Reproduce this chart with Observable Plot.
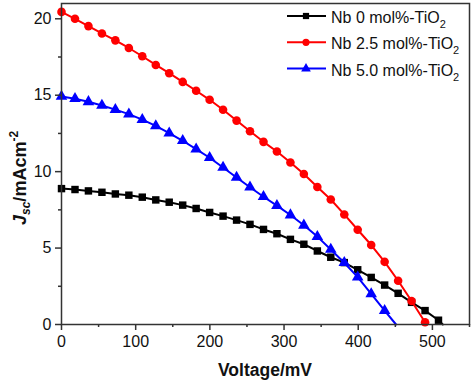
<!DOCTYPE html>
<html>
<head>
<meta charset="utf-8">
<script src="https://cdn.jsdelivr.net/npm/d3@7"></script>
<script src="https://cdn.jsdelivr.net/npm/@observablehq/plot@0.6"></script>
<style>
  html, body { margin: 0; padding: 0; background: #fff; }
  #chart { width: 474px; height: 381px; overflow: hidden; }
  #chart svg { display: block; font-family: "Liberation Sans", Arial, sans-serif; }
  #chart svg text { fill: #111; }
</style>
</head>
<body>
<div id="chart"></div>
<script>
// ---- data ----
const voltage = [0, 18.2, 36.3, 54.5, 72.6, 90.8, 108.9, 127.1, 145.2, 163.4, 181.5, 199.7, 217.8, 236.0, 254.1, 272.3, 290.4, 308.6, 326.7, 344.9, 363.0, 381.2, 399.3, 417.5, 435.6, 453.8, 471.9, 490.1, 508.2];

const jscNb0 = [8.89, 8.83, 8.74, 8.65, 8.54, 8.46, 8.33, 8.15, 8.00, 7.81, 7.59, 7.33, 7.09, 6.83, 6.55, 6.22, 5.94, 5.57, 5.25, 4.81, 4.40, 4.05, 3.58, 3.08, 2.58, 2.04, 1.45, 0.91, 0.28];
const jscNb25 = [20.45, 20.00, 19.52, 19.04, 18.59, 18.09, 17.55, 16.98, 16.44, 15.87, 15.29, 14.70, 14.05, 13.34, 12.64, 11.95, 11.32, 10.60, 9.85, 9.00, 8.18, 7.20, 6.20, 5.20, 4.10, 2.86, 1.54, 0.15];
const jscNb50 = [14.92, 14.77, 14.57, 14.33, 14.06, 13.76, 13.40, 12.99, 12.52, 12.02, 11.47, 10.91, 10.27, 9.62, 8.98, 8.36, 7.78, 7.16, 6.49, 5.75, 4.91, 4.04, 3.10, 2.00, 0.91];

// open-circuit end points (J = 0) where the line reaches the axis
const vocNb0 = 514;
const vocNb50 = 451;

const seriesNames = ["Nb 0 mol%-TiO", "Nb 2.5 mol%-TiO", "Nb 5.0 mol%-TiO"];
const seriesColors = ["#000000", "#ff0000", "#0000ff"];
const seriesSymbols = ["square", "circle", "triangle"];

const xTicks = [0, 100, 200, 300, 400, 500];
const xMinor = [50, 150, 250, 350, 450, 550];
const yTicks = [0, 5, 10, 15, 20];
const yMinor = [2.5, 7.5, 12.5, 17.5];

// ---- build tables ----
const rows = (vals) => vals.map((j, i) => ({v: voltage[i], j}));
const pts0 = rows(jscNb0), pts25 = rows(jscNb25), pts50 = rows(jscNb50);
const line0 = pts0.concat([{v: vocNb0, j: 0}]);
const line25 = pts25;
const line50 = pts50.concat([{v: vocNb50, j: 0}]);

const symR = [4.2, 4.3, 4.3];
const axisColor = "#333";

const svg = Plot.plot({
  width: 474,
  height: 381,
  marginLeft: 61,
  marginRight: 5,
  marginTop: 3,
  marginBottom: 57,
  style: {fontSize: "16px", fontFamily: "Liberation Sans, Arial, sans-serif", background: "#fff"},
  x: {domain: [0, 550]},
  y: {domain: [0, 21]},
  marks: [
    Plot.line(line0, {x: "v", y: "j", stroke: seriesColors[0], strokeWidth: 2}),
    Plot.dot(pts0, {x: "v", y: "j", symbol: () => seriesSymbols[0], fill: seriesColors[0], stroke: "none", r: symR[0]}),
    Plot.line(line25, {x: "v", y: "j", stroke: seriesColors[1], strokeWidth: 2}),
    Plot.dot(pts25, {x: "v", y: "j", symbol: () => seriesSymbols[1], fill: seriesColors[1], stroke: "none", r: symR[1]}),
    Plot.line(line50, {x: "v", y: "j", stroke: seriesColors[2], strokeWidth: 2}),
    Plot.dot(pts50, {x: "v", y: "j", symbol: () => seriesSymbols[2], fill: seriesColors[2], stroke: "none", r: symR[2]}),
    Plot.axisX({ticks: xTicks, tickSize: 6, tickPadding: 5, stroke: axisColor, strokeWidth: 1.5, label: null, fontSize: 16}),
    Plot.axisX({ticks: xMinor, tickSize: 3, stroke: axisColor, strokeWidth: 1.5, tickFormat: () => "", label: null}),
    Plot.axisY({ticks: yTicks, tickSize: 6, tickPadding: 4, stroke: axisColor, strokeWidth: 1.5, label: null, fontSize: 16}),
    Plot.axisY({ticks: yMinor, tickSize: 3, stroke: axisColor, strokeWidth: 1.5, tickFormat: () => "", label: null}),
    Plot.frame({stroke: axisColor, strokeWidth: 1.5})
  ]
});

document.getElementById("chart").appendChild(svg);

const s = d3.select(svg);
const font = "Liberation Sans, Arial, sans-serif";

// x axis title
s.append("text")
  .attr("x", 265).attr("y", 376)
  .attr("text-anchor", "middle")
  .attr("font-family", font).attr("font-size", 17.5).attr("font-weight", "bold")
  .text("Voltage/mV");

// y axis title: J_sc /mAcm^-2
const yt = s.append("text")
  .attr("transform", "translate(26,225) rotate(-90)")
  .attr("text-anchor", "start")
  .attr("font-family", font).attr("font-size", 18).attr("font-weight", "bold");
yt.append("tspan").attr("font-style", "italic").text("J");
yt.append("tspan").attr("font-style", "italic").attr("font-size", 12).attr("dy", 4).text("sc");
yt.append("tspan").attr("dy", -4).text("/mAcm");
yt.append("tspan").attr("font-size", 12).attr("dy", -8).text("-2");

// legend
const symbolMap = {square: d3.symbolSquare, circle: d3.symbolCircle, triangle: d3.symbolTriangle};
const lg = s.append("g").attr("text-anchor", "start");
seriesNames.forEach((name, i) => {
  const yLine = 16 + 26.3 * i;
  const yText = 23 + 26.3 * i;
  lg.append("line").attr("x1", 287).attr("x2", 326).attr("y1", yLine).attr("y2", yLine)
    .attr("stroke", seriesColors[i]).attr("stroke-width", 2);
  lg.append("path")
    .attr("transform", `translate(306,${yLine})`)
    .attr("d", d3.symbol(symbolMap[seriesSymbols[i]], Math.PI * symR[i] * symR[i] * 0.7)())
    .attr("fill", seriesColors[i]);
  const t = lg.append("text").attr("x", 331).attr("y", yText)
    .attr("text-anchor", "start")
    .attr("font-family", font).attr("font-size", 16);
  t.append("tspan").text(name);
  t.append("tspan").attr("font-size", 11).attr("dy", 5).text("2");
});
</script>
</body>
</html>
